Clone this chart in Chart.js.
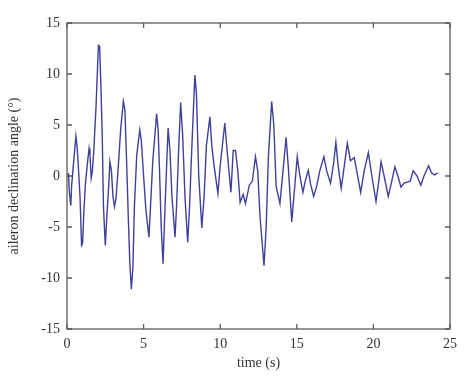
<!DOCTYPE html>
<html>
<head>
<meta charset="utf-8">
<script src="https://cdn.jsdelivr.net/npm/chart.js@4/dist/chart.umd.min.js"></script>
<style>
  html, body { margin: 0; padding: 0; background: #fff; }
  #wrap { width: 474px; height: 387px; position: relative; }
</style>
</head>
<body>
<div id="wrap"><canvas id="chart"></canvas></div>
<script>
// time (s) and aileron declination angle (deg)
const times = [
  0, 0.1, 0.15, 0.25, 0.3, 0.4, 0.5, 0.58, 0.65, 0.72, 0.85, 0.95, 1.02, 1.1, 1.2, 1.35, 1.44, 1.5, 1.58, 1.65,
  1.75, 1.9, 2.05, 2.13, 2.2, 2.3, 2.38, 2.5, 2.6, 2.72, 2.8, 2.9, 3.0, 3.1, 3.2, 3.35, 3.5, 3.68, 3.78, 3.9,
  4.0, 4.1, 4.2, 4.3, 4.4, 4.55, 4.75, 4.85, 5.0, 5.15, 5.35, 5.45, 5.6, 5.85, 5.95, 6.05, 6.15, 6.27, 6.4, 6.6,
  6.72, 6.85, 7.05, 7.15, 7.3, 7.42, 7.55, 7.7, 7.88, 8.0, 8.1, 8.25, 8.35, 8.45, 8.6, 8.8, 8.95, 9.1, 9.33, 9.45,
  9.6, 9.85, 10.0, 10.3, 10.45, 10.7, 10.85, 11.0, 11.15, 11.3, 11.5, 11.65, 11.9, 12.1, 12.3, 12.45, 12.6, 12.86, 13.0, 13.15,
  13.36, 13.5, 13.65, 13.9, 14.1, 14.3, 14.45, 14.67, 14.85, 15.03, 15.2, 15.4, 15.55, 15.75, 15.9, 16.1, 16.3, 16.5, 16.77, 16.95,
  17.2, 17.4, 17.55, 17.7, 17.9, 18.1, 18.3, 18.5, 18.75, 19.17, 19.4, 19.67, 19.9, 20.17, 20.35, 20.5, 20.7, 20.97, 21.2, 21.4,
  21.6, 21.8, 22.0, 22.4, 22.6, 22.85, 23.1, 23.3, 23.6, 23.8, 24.0, 24.2
];
const angles = [
  0.2, 0.2, -1.5, -2.9, -1.0, 0.8, 2.5, 3.9, 3.0, 1.5, -2.0, -6.8, -6.6, -3.5, -0.8, 1.5, 2.7, 2.0, -0.2, 0.4,
  2.5, 7.0, 12.8, 12.7, 9.5, 4.0, -3.0, -6.8, -4.0, -1.0, 1.4, 0.5, -2.0, -3.0, -2.2, 1.0, 4.5, 7.3, 6.5, 1.0,
  -4.0, -8.5, -11.1, -9.0, -3.0, 2.0, 4.5, 3.5, 0.0, -3.3, -6.0, -3.0, 1.5, 6.1, 4.5, 0.0, -5.0, -8.6, -3.0, 4.7,
  2.5, -2.0, -6.0, -3.0, 3.0, 7.2, 4.0, -2.0, -6.5, -3.0, 1.0, 6.5, 9.9, 8.0, 0.0, -5.1, -2.0, 3.0, 5.8, 3.0,
  1.0, -1.7, 1.0, 5.2, 2.5, -1.6, 2.5, 2.5, 0.5, -2.6, -1.8, -2.7, -0.9, -0.5, 1.9, 0.5, -4.0, -8.8, -5.0, 2.0,
  7.3, 5.0, -1.0, -2.7, 0.5, 3.8, 0.8, -4.5, -1.3, 1.9, 0.0, -1.6, -0.5, 0.55, -0.8, -2.0, -1.0, 0.5, 1.9, 0.5,
  -0.7, 1.2, 3.3, 1.0, -1.2, 1.0, 3.2, 1.5, 1.8, -1.6, 0.5, 2.3, 0.0, -2.5, -0.5, 1.4, 0.0, -2.0, -0.5, 0.9,
  0.0, -1.1, -0.7, -0.5, 0.5, 0.0, -0.9, 0.0, 1.0, 0.3, 0.1, 0.3
];
const xTicks = [0, 5, 10, 15, 20, 25];
const yTicks = [-15, -10, -5, 0, 5, 10, 15];

const axisColour = '#5a5a5a';
const fontFamily = '"Liberation Serif", "DejaVu Serif", serif';

// MATLAB style box with inward ticks on all four sides
const boxPlugin = {
  id: 'box',
  afterDraw(chart) {
    const { ctx, chartArea: a, scales } = chart;
    ctx.save();
    ctx.strokeStyle = axisColour;
    ctx.lineWidth = 1.3;
    ctx.strokeRect(a.left, a.top, a.right - a.left, a.bottom - a.top);
    ctx.beginPath();
    xTicks.forEach(v => {
      const px = scales.x.getPixelForValue(v);
      ctx.moveTo(px, a.bottom); ctx.lineTo(px, a.bottom - 5);
      ctx.moveTo(px, a.top); ctx.lineTo(px, a.top + 5);
    });
    yTicks.forEach(v => {
      const py = scales.y.getPixelForValue(v);
      ctx.moveTo(a.left, py); ctx.lineTo(a.left + 5, py);
      ctx.moveTo(a.right, py); ctx.lineTo(a.right - 5, py);
    });
    ctx.stroke();
    ctx.restore();
  }
};

new Chart(document.getElementById('chart'), {
  type: 'line',
  data: {
    datasets: [{
      data: times.map((t, i) => ({ x: t, y: angles[i] })),
      borderColor: '#40409a',
      borderWidth: 1.4,
      pointRadius: 0,
      tension: 0,
      fill: false
    }]
  },
  options: {
    responsive: true,
    maintainAspectRatio: false,
    animation: false,
    layout: { padding: { top: 23, right: 24, left: 2, bottom: 11 } },
    plugins: { legend: { display: false }, tooltip: { enabled: false } },
    scales: {
      x: {
        type: 'linear',
        min: 0, max: 25,
        afterBuildTicks: s => { s.ticks = xTicks.map(v => ({ value: v })); },
        afterFit: s => { s.height = 47; },
        grid: { display: false, drawTicks: false },
        border: { display: false },
        ticks: { color: '#333', padding: 7, maxRotation: 0, font: { family: fontFamily, size: 14 } },
        title: { display: true, text: 'time (s)', color: '#333', padding: { top: 2 }, font: { family: fontFamily, size: 14 } }
      },
      y: {
        min: -15, max: 15,
        afterBuildTicks: s => { s.ticks = yTicks.map(v => ({ value: v })); },
        afterFit: s => { s.width = 65; },
        grid: { display: false, drawTicks: false },
        border: { display: false },
        ticks: { color: '#333', padding: 7, font: { family: fontFamily, size: 14 } },
        title: { display: true, text: 'aileron declination angle (°)', color: '#333', padding: { bottom: 0 }, font: { family: fontFamily, size: 14 } }
      }
    }
  },
  plugins: [boxPlugin]
});
</script>
</body>
</html>
